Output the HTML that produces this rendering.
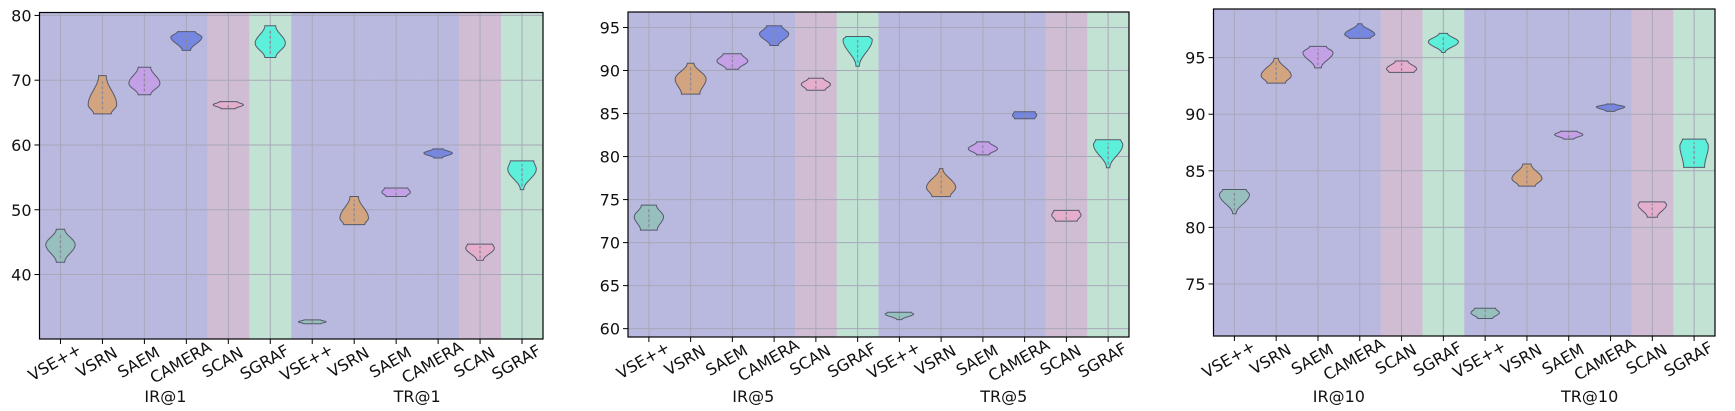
<!DOCTYPE html>
<html><head><meta charset="utf-8"><style>
html,body{margin:0;padding:0;background:#fff;}
svg{display:block;font-family:"DejaVu Sans","Liberation Sans",sans-serif;}
</style></head><body>
<svg id="chart" width="1735" height="411" viewBox="0 0 1735 411" xmlns="http://www.w3.org/2000/svg"></svg>
<script>
const categories = ["VSE++","VSRN","SAEM","CAMERA","SCAN","SGRAF","VSE++","VSRN","SAEM","CAMERA","SCAN","SGRAF"];
const groupTitles1 = ["IR@1","TR@1"];
const groupTitles2 = ["IR@5","TR@5"];
const groupTitles3 = ["IR@10","TR@10"];
const ticks1 = [40,50,60,70,80];
const ticks2 = [60,65,70,75,80,85,90,95];
const ticks3 = [75,80,85,90,95];
const min1 = [41.9,64.8,67.75,74.6,65.6,73.5,32.4,47.7,52.05,58.0,42.2,53.1];
const max1 = [47.0,70.7,72.0,77.5,66.7,78.4,33.0,52.05,53.35,59.4,44.7,57.55];
const mode1 = [44.6,66.2,69.5,76.65,66.2,75.7,32.7,48.7,52.7,58.75,44.1,56.3];
const min2 = [71.45,87.25,90.15,92.9,87.7,90.5,61.05,75.35,80.2,84.4,72.5,78.7];
const max2 = [74.35,90.85,91.95,95.2,89.1,93.95,61.9,78.6,81.7,85.2,73.75,81.95];
const mode2 = [73.0,89.0,91.1,94.25,88.4,93.6,61.7,76.4,80.9,84.8,73.2,81.4];
const min3 = [81.2,92.75,94.1,96.7,93.7,95.45,71.95,83.65,87.8,90.25,80.9,85.3];
const max3 = [83.35,94.95,96.0,98.0,94.7,97.15,72.85,85.6,88.5,90.9,82.25,87.8];
const mode3 = [82.9,93.4,95.45,97.05,94.0,96.4,72.45,84.3,88.2,90.65,82.0,87.2];
const wMax1 = [0.35,0.34,0.37,0.37,0.36,0.36,0.33,0.34,0.34,0.34,0.34,0.34];
const wTop1 = [0.10,0.09,0.15,0.21,0.21,0.13,0.20,0.10,0.28,0.12,0.30,0.28];
const wBot1 = [0.10,0.21,0.15,0.10,0.17,0.13,0.20,0.25,0.24,0.10,0.08,0.04];
const wMax2 = [0.35,0.37,0.37,0.35,0.35,0.35,0.34,0.35,0.35,0.29,0.35,0.35];
const wTop2 = [0.18,0.08,0.22,0.18,0.18,0.28,0.28,0.04,0.15,0.25,0.30,0.30];
const wBot2 = [0.20,0.22,0.15,0.10,0.22,0.04,0.06,0.22,0.15,0.24,0.26,0.04];
const wMax3 = [0.36,0.36,0.36,0.36,0.36,0.36,0.34,0.36,0.34,0.34,0.34,0.34];
const wTop3 = [0.28,0.05,0.20,0.05,0.15,0.10,0.25,0.10,0.20,0.10,0.30,0.28];
const wBot3 = [0.04,0.22,0.08,0.25,0.30,0.04,0.18,0.20,0.12,0.10,0.12,0.25];

const violinColors = ["#8fc0b6","#d6a06e","#c59be6","#6a7ee0","#e9abcb","#4af2dc"];
const bandColors = ["#b9b9e0","#b9b9e0","#b9b9e0","#b9b9e0","#d0bdd3","#c2e2d3","#b9b9e0","#b9b9e0","#b9b9e0","#b9b9e0","#d0bdd3","#c2e2d3"];

const NS = "http://www.w3.org/2000/svg";
const svg = document.getElementById("chart");
function mk(tag, attrs, parent){const e=document.createElementNS(NS,tag);for(const k in attrs)e.setAttribute(k,attrs[k]);(parent||svg).appendChild(e);return e;}

function panel(cfg){
  const g = mk("g",{});
  
  
  const {x0,x1,y0,y1,ymin,ymax} = cfg;
  const n = categories.length;
  const cw = (x1-x0)/n;
  const xs = i => x0 + cw*(i+0.5);
  const ys = v => y1 - (v-ymin)/(ymax-ymin)*(y1-y0);
  for(let i=0;i<n;i++){
    const b = mk("rect",{x:x0+cw*i,y:y0,width:cw+0.3,height:y1-y0,fill:bandColors[i]},g);
    
    
  }
  for(let i=0;i<n;i++){
    const l = mk("line",{x1:xs(i),x2:xs(i),y1:y0,y2:y1,stroke:"#a8a8b8","stroke-width":1},g);
    
    
  }
  cfg.ticks.forEach(t=>{
    const l = mk("line",{x1:x0,x2:x1,y1:ys(t),y2:ys(t),stroke:"#a8a8b8","stroke-width":1},g);
    
    
    const tk = mk("line",{x1:x0-5,x2:x0,y1:ys(t),y2:ys(t),stroke:"#000","stroke-width":1},g);
    
    
    const tx = mk("text",{x:x0-8,y:ys(t)+6,"text-anchor":"end","font-size":16,fill:"#111"},g);
    tx.textContent = t;
    
    
  });
  for(let i=0;i<n;i++){
    const lo=cfg.mins[i], hi=cfg.maxs[i], md=cfg.modes[i];
    const wm=cfg.wMax[i]*cw, wt=cfg.wTop[i]*cw, wb=cfg.wBot[i]*cw;
    const cx = xs(i);
    const N=40, right=[], left=[];
    for(let k=0;k<=N;k++){
      const v = lo + (hi-lo)*k/N;
      let w;
      if(v<=md){const f=(md-lo)>0?(v-lo)/(md-lo):1; w = wb + (wm-wb)*(0.5-0.5*Math.cos(Math.PI*f));}
      else {const f=(v-md)/(hi-md); w = wm + (wt-wm)*(0.5-0.5*Math.cos(Math.PI*f));}
      right.push([cx+w, ys(v)]); left.push([cx-w, ys(v)]);
    }
    const pts = right.concat(left.reverse());
    const d = "M"+pts.map(p=>p[0].toFixed(2)+","+p[1].toFixed(2)).join("L")+"Z";
    const p = mk("path",{d:d,fill:violinColors[i%6],"fill-opacity":0.85,stroke:"#555a6a","stroke-width":1},g);
    
    
    const q = mk("line",{x1:cx,x2:cx,y1:ys(lo+(hi-lo)*0.12),y2:ys(hi-(hi-lo)*0.12),stroke:"#8a8a9a","stroke-width":1.3,"stroke-dasharray":"3,2"},g);
    
    
  }
  const fr = mk("rect",{x:x0,y:y0,width:x1-x0,height:y1-y0,fill:"none",stroke:"#000","stroke-width":1.2},g);
  
  
  for(let i=0;i<n;i++){
    const tk = mk("line",{x1:xs(i),x2:xs(i),y1:y1,y2:y1+5,stroke:"#000","stroke-width":1},g);
    
    
    const lx = xs(i)-3, ly = y1+28;
    const tx = mk("text",{x:lx,y:ly,"text-anchor":"middle","font-size":16,fill:"#111",transform:`rotate(-30 ${lx} ${ly})`},g);
    tx.textContent = categories[i];
    
    
  }
  cfg.titles.forEach((t,j)=>{
    const tx = mk("text",{x:xs(2.5+6*j),y:402,"text-anchor":"middle","font-size":16,fill:"#111"},g);
    tx.textContent = t;
    
    
  });
}
panel({name:"panel-at-1",x0:39.5,x1:543,y0:12.5,y1:339,ymin:30.05,ymax:80.45,ticks:ticks1,titles:groupTitles1,mins:min1,maxs:max1,modes:mode1,wMax:wMax1,wTop:wTop1,wBot:wBot1});
panel({name:"panel-at-5",x0:628,x1:1129,y0:12,y1:337,ymin:59.03,ymax:96.8,ticks:ticks2,titles:groupTitles2,mins:min2,maxs:max2,modes:mode2,wMax:wMax2,wTop:wTop2,wBot:wBot2});
panel({name:"panel-at-10",x0:1213.5,x1:1715,y0:9,y1:336,ymin:70.4,ymax:99.3,ticks:ticks3,titles:groupTitles3,mins:min3,maxs:max3,modes:mode3,wMax:wMax3,wTop:wTop3,wBot:wBot3});
</script>
</body></html>
